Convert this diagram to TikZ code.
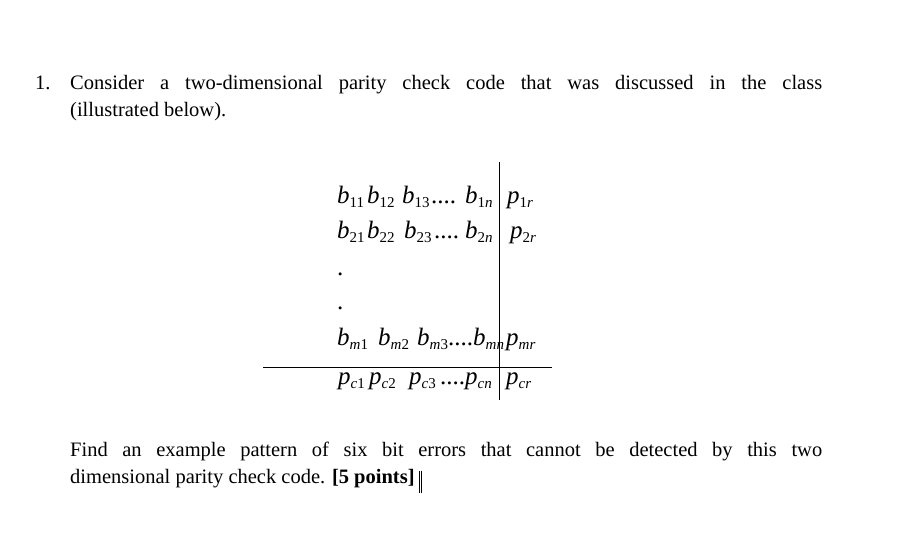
\documentclass[tikz,border=0pt]{standalone}
\usepackage{fontspec}
\setmainfont{Liberation Serif}
\newcommand{\ent}[2]{\textit{#1}\raisebox{-0.35ex}{\fontsize{15}{15}\selectfont #2}}
\begin{document}
\begin{tikzpicture}[x=1pt,y=-1pt,
  body/.style={anchor=base west,inner sep=0pt,font=\fontsize{20.5}{24}\selectfont},
  ent/.style={anchor=base west,inner sep=0pt,font=\fontsize{25}{28}\selectfont},
  rule/.style={line width=0.9pt}]
\useasboundingbox (0,0) rectangle (897,535);
\node[body] (num) at (35,89) {1.};
\node[body] (l1) at (70,89) {\makebox[752pt][s]{Consider a two-dimensional parity check code that was discussed in the class}};
\node[body] (l2) at (70,116) {(illustrated below).};
\node[body] (l3) at (70,456) {\makebox[752pt][s]{Find an example pattern of six bit errors that cannot be detected by this two}};
\node[body] (l4) at (70,483) {dimensional parity check code. \textbf{[5 points]}};
\draw[line width=0.6pt] (l4.north east)++(4,2) coordinate (ca) -- ++(0,22) coordinate (cb);
\draw[line width=0.6pt] (ca)++(2.5,0) -- ++(0,22);
% matrix
\node[ent] (b11) at (337,203) {\ent{b}{11}};
\node[ent] (b12) at (367,203) {\ent{b}{12}};
\node[ent] (b13) at (402,203) {\ent{b}{13}};
\node[ent] (d1) at (431,203) {....};
\node[ent] (b1n) at (465,203) {\ent{b}{1\textit{n}}};
\node[ent] (p1r) at (507,203) {\ent{p}{1\textit{r}}};
\node[ent] (b21) at (337,238) {\ent{b}{21}};
\node[ent] (b22) at (367,238) {\ent{b}{22}};
\node[ent] (b23) at (404,238) {\ent{b}{23}};
\node[ent] (d2) at (434,238) {....};
\node[ent] (b2n) at (465,238) {\ent{b}{2\textit{n}}};
\node[ent] (p2r) at (510,238) {\ent{p}{2\textit{r}}};
\node[ent] (v1) at (337,275) {.};
\node[ent] (v2) at (337,309) {.};
\node[ent] (bm1) at (337,345) {\ent{b}{\textit{m}1}};
\node[ent] (bm2) at (378,345) {\ent{b}{\textit{m}2}};
\node[ent] (bm3) at (417,345) {\ent{b}{\textit{m}3}};
\node[ent] (bmn) at (448,345) {....\ent{b}{\textit{mn}}};
\node[ent] (pmr) at (506,345) {\ent{p}{\textit{mr}}};
\node[ent] (pc1) at (338,384) {\ent{p}{\textit{c}1}};
\node[ent] (pc2) at (369,384) {\ent{p}{\textit{c}2}};
\node[ent] (pc3) at (409,384) {\ent{p}{\textit{c}3}};
\node[ent] (pcn) at (440,384) {....\ent{p}{\textit{cn}}};
\node[ent] (pcr) at (506,384) {\ent{p}{\textit{cr}}};
\coordinate (vt) at (499,162);
\coordinate (vb) at (499,400);
\coordinate (hl) at (263,367);
\coordinate (hr) at (552,367);
\draw[rule] (vt) -- (vb);
\draw[rule] (hl) -- (hr);
\end{tikzpicture}
\end{document}
